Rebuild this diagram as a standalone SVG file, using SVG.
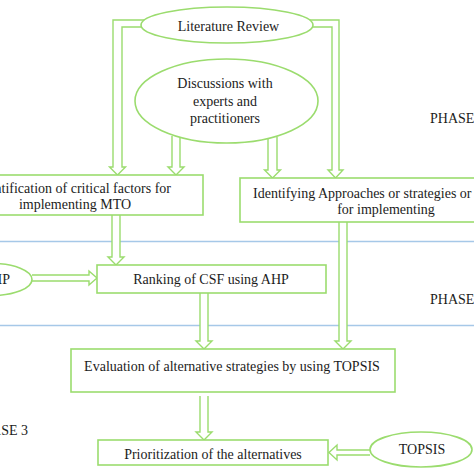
<svg xmlns="http://www.w3.org/2000/svg" width="474" height="474" viewBox="0 0 474 474">
<style>
.n{fill:#fff;stroke:#9bdc6e;stroke-width:1.6}
.a{fill:#fff;stroke:#9bdc6e;stroke-width:1.4;stroke-linejoin:miter}
.t{font-family:"Liberation Serif","Times New Roman",serif;font-size:14px;fill:#1c1c1c}
.c{text-anchor:middle}
.sep{stroke:#a6c8e8;stroke-width:1.4}
</style>
<rect width="474" height="474" fill="#fff"/>
<g id="separators">
<line class="sep" x1="0" y1="241.5" x2="474" y2="241.5"/>
<line class="sep" x1="0" y1="325.5" x2="474" y2="325.5"/>
</g>
<g id="phase-labels">
<text class="t" x="430" y="123">PHASE 1</text>
<text class="t" x="430" y="304">PHASE 2</text>
<text class="t" x="28" y="435" text-anchor="end">PHASE 3</text>
</g>
<g id="connectors">
<path class="a" d="M144 20 H113 V167 H109.5 L117.5 175 L125.5 167 H122 V27 H143"/>
<path class="a" d="M310 20 H339 V170 H343 L335.5 178 L328 170 H332 V27 H312"/>
<path class="a" d="M172 136 V167 H168 L176 175 L184 167 H180 V136"/>
<path class="a" d="M268 137 V170 H264.5 L272.5 178 L280.5 170 H277 V137"/>
<path class="a" d="M112 215 V257 H108 L116 265 L124 257 H120 V215"/>
<path class="a" d="M32 275 H89 V271 L97 278 L89 285 V281 H32"/>
<path class="a" d="M200 293 V341 H196 L204 349 L212 341 H208 V293"/>
<path class="a" d="M339 222 V341 H335 L343 349 L351 341 H347 V222"/>
<path class="a" d="M200 396 V432 H196 L204 440 L212 432 H208 V396"/>
<path class="a" d="M370 450 H337 V445 L329 452.5 L337 460 V455 H370"/>
</g>
<g id="literature-review">
<ellipse class="n" cx="227" cy="25" rx="86" ry="18"/>
<text class="t c" x="228.5" y="31">Literature Review</text>
</g>
<g id="discussions">
<ellipse class="n" cx="226.5" cy="101" rx="91.5" ry="42"/>
<text class="t c" x="225" y="88">Discussions with</text>
<text class="t c" x="225" y="105.5">experts and</text>
<text class="t c" x="225" y="123">practitioners</text>
</g>
<g id="identification">
<rect class="n" x="-10" y="175" width="213" height="40"/>
<text class="t" x="171" y="193" text-anchor="end">Identification of critical factors for</text>
<text class="t c" x="75" y="209">implementing MTO</text>
</g>
<g id="approaches">
<rect class="n" x="240" y="178" width="245" height="44"/>
<text class="t" x="253" y="198">Identifying Approaches or strategies or solutions</text>
<text class="t c" x="386" y="214">for implementing</text>
</g>
<g id="ahp">
<ellipse class="n" cx="-8" cy="279.5" rx="40" ry="16"/>
<text class="t" x="10" y="284" text-anchor="end">AHP</text>
</g>
<g id="ranking">
<rect class="n" x="97" y="265" width="229" height="28"/>
<text class="t c" x="211" y="284">Ranking of CSF using AHP</text>
</g>
<g id="evaluation">
<rect class="n" x="71" y="349" width="324" height="43"/>
<text class="t c" x="232" y="371">Evaluation of alternative strategies by using TOPSIS</text>
</g>
<g id="prioritization">
<rect class="n" x="98" y="440" width="230" height="25"/>
<text class="t c" x="213" y="459">Prioritization of the alternatives</text>
</g>
<g id="topsis">
<ellipse class="n" cx="421" cy="449.5" rx="51" ry="17.5"/>
<text class="t c" x="422" y="454">TOPSIS</text>
</g>
</svg>
